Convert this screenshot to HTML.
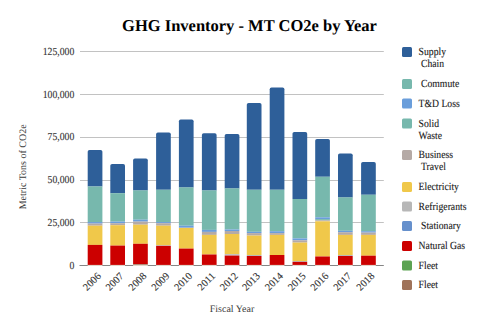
<!DOCTYPE html>
<html><head><meta charset="utf-8"><style>
html,body{margin:0;padding:0;background:#fff;}
svg{display:block;}
text{font-family:"Liberation Serif", serif;fill:#222;text-rendering:geometricPrecision;}
.ax{font-size:10.8px;fill:#333;stroke:#333;stroke-width:0.12px;}
.at{font-size:10px;fill:#3a3a3a;}
.xl{font-size:10.3px;fill:#333;stroke:#333;stroke-width:0.12px;}
.lg{font-size:11px;fill:#1a1a1a;stroke:#1a1a1a;stroke-width:0.12px;}
.title{font-size:16.5px;font-weight:bold;fill:#000;}
</style></head><body>
<svg width="500" height="331" viewBox="0 0 500 331">
<rect width="500" height="331" fill="#fff"/>
<rect x="80" y="51" width="303.8" height="1" fill="#c2c2c2"/>
<rect x="80" y="94" width="303.8" height="1" fill="#c2c2c2"/>
<rect x="80" y="137" width="303.8" height="1" fill="#c2c2c2"/>
<rect x="80" y="180" width="303.8" height="1" fill="#c2c2c2"/>
<rect x="80" y="222" width="303.8" height="1" fill="#c2c2c2"/>
<rect x="79.5" y="265" width="304.3" height="1" fill="#858585"/>
<text transform="translate(74.3 54.9) scale(0.9,1)" text-anchor="end" class="ax">125,000</text>
<text transform="translate(74.3 97.6) scale(0.9,1)" text-anchor="end" class="ax">100,000</text>
<text transform="translate(74.3 140.4) scale(0.9,1)" text-anchor="end" class="ax">75,000</text>
<text transform="translate(74.3 183.1) scale(0.9,1)" text-anchor="end" class="ax">50,000</text>
<text transform="translate(74.3 225.9) scale(0.9,1)" text-anchor="end" class="ax">25,000</text>
<text transform="translate(74.3 268.6) scale(0.9,1)" text-anchor="end" class="ax">0</text>
<path d="M87.70,186.50 V151.80 Q87.70,150.00 89.50,150.00 H100.60 Q102.40,150.00 102.40,151.80 V186.50 Z" fill="#2e5f99"/>
<rect x="87.70" y="186.50" width="14.7" height="35.60" fill="#77b8ad"/>
<rect x="87.70" y="222.10" width="14.7" height="1.50" fill="#6a9edb"/>
<rect x="87.70" y="223.60" width="14.7" height="2.10" fill="#b5aaa6"/>
<rect x="87.70" y="225.70" width="14.7" height="19.20" fill="#f0c84a"/>
<rect x="87.70" y="244.90" width="14.7" height="20.30" fill="#cc0000"/>
<rect x="87.70" y="264.9" width="14.7" height="1" fill="#ece3d6"/>
<path d="M110.30,193.20 V165.80 Q110.30,164.00 112.10,164.00 H123.20 Q125.00,164.00 125.00,165.80 V193.20 Z" fill="#2e5f99"/>
<rect x="110.30" y="193.20" width="14.7" height="28.40" fill="#77b8ad"/>
<rect x="110.30" y="221.60" width="14.7" height="1.60" fill="#6a9edb"/>
<rect x="110.30" y="223.20" width="14.7" height="2.00" fill="#b5aaa6"/>
<rect x="110.30" y="225.20" width="14.7" height="20.40" fill="#f0c84a"/>
<rect x="110.30" y="245.60" width="14.7" height="19.60" fill="#cc0000"/>
<rect x="110.30" y="264.9" width="14.7" height="1" fill="#ece3d6"/>
<path d="M133.10,190.40 V160.20 Q133.10,158.40 134.90,158.40 H146.00 Q147.80,158.40 147.80,160.20 V190.40 Z" fill="#2e5f99"/>
<rect x="133.10" y="190.40" width="14.7" height="29.30" fill="#77b8ad"/>
<rect x="133.10" y="219.70" width="14.7" height="1.90" fill="#6a9edb"/>
<rect x="133.10" y="221.60" width="14.7" height="3.10" fill="#b5aaa6"/>
<rect x="133.10" y="224.70" width="14.7" height="19.10" fill="#f0c84a"/>
<rect x="133.10" y="243.80" width="14.7" height="20.40" fill="#cc0000"/>
<rect x="133.10" y="264.20" width="14.7" height="1.00" fill="#9f735a"/>
<rect x="133.10" y="264.9" width="14.7" height="1" fill="#ece3d6"/>
<path d="M156.10,189.80 V134.20 Q156.10,132.40 157.90,132.40 H169.00 Q170.80,132.40 170.80,134.20 V189.80 Z" fill="#2e5f99"/>
<rect x="156.10" y="189.80" width="14.7" height="32.30" fill="#77b8ad"/>
<rect x="156.10" y="222.10" width="14.7" height="1.10" fill="#6a9edb"/>
<rect x="156.10" y="223.20" width="14.7" height="2.50" fill="#b5aaa6"/>
<rect x="156.10" y="225.70" width="14.7" height="19.60" fill="#f0c84a"/>
<rect x="156.10" y="245.30" width="14.7" height="0.60" fill="#b5aaa6"/>
<rect x="156.10" y="245.90" width="14.7" height="19.30" fill="#cc0000"/>
<rect x="156.10" y="264.9" width="14.7" height="1" fill="#ece3d6"/>
<path d="M178.90,187.40 V121.20 Q178.90,119.40 180.70,119.40 H191.80 Q193.60,119.40 193.60,121.20 V187.40 Z" fill="#2e5f99"/>
<rect x="178.90" y="187.40" width="14.7" height="38.30" fill="#77b8ad"/>
<rect x="178.90" y="225.70" width="14.7" height="2.00" fill="#6a9edb"/>
<rect x="178.90" y="227.70" width="14.7" height="0.30" fill="#b5aaa6"/>
<rect x="178.90" y="228.00" width="14.7" height="20.60" fill="#f0c84a"/>
<rect x="178.90" y="248.60" width="14.7" height="16.60" fill="#cc0000"/>
<rect x="178.90" y="264.9" width="14.7" height="1" fill="#ece3d6"/>
<path d="M201.90,190.40 V135.00 Q201.90,133.20 203.70,133.20 H214.80 Q216.60,133.20 216.60,135.00 V190.40 Z" fill="#2e5f99"/>
<rect x="201.90" y="190.40" width="14.7" height="39.50" fill="#77b8ad"/>
<rect x="201.90" y="229.90" width="14.7" height="2.00" fill="#6a9edb"/>
<rect x="201.90" y="231.90" width="14.7" height="3.00" fill="#b5aaa6"/>
<rect x="201.90" y="234.90" width="14.7" height="19.60" fill="#f0c84a"/>
<rect x="201.90" y="254.50" width="14.7" height="10.70" fill="#cc0000"/>
<rect x="201.90" y="264.9" width="14.7" height="1" fill="#ece3d6"/>
<path d="M224.70,188.40 V135.80 Q224.70,134.00 226.50,134.00 H237.60 Q239.40,134.00 239.40,135.80 V188.40 Z" fill="#2e5f99"/>
<rect x="224.70" y="188.40" width="14.7" height="41.10" fill="#77b8ad"/>
<rect x="224.70" y="229.50" width="14.7" height="1.50" fill="#6a9edb"/>
<rect x="224.70" y="231.00" width="14.7" height="3.00" fill="#b5aaa6"/>
<rect x="224.70" y="234.00" width="14.7" height="20.20" fill="#f0c84a"/>
<rect x="224.70" y="254.20" width="14.7" height="1.40" fill="#b7b7b7"/>
<rect x="224.70" y="255.60" width="14.7" height="9.60" fill="#cc0000"/>
<rect x="224.70" y="264.9" width="14.7" height="1" fill="#ece3d6"/>
<path d="M246.80,189.80 V104.80 Q246.80,103.00 248.60,103.00 H259.70 Q261.50,103.00 261.50,104.80 V189.80 Z" fill="#2e5f99"/>
<rect x="246.80" y="189.80" width="14.7" height="42.00" fill="#77b8ad"/>
<rect x="246.80" y="231.80" width="14.7" height="1.30" fill="#6a9edb"/>
<rect x="246.80" y="233.10" width="14.7" height="2.50" fill="#b5aaa6"/>
<rect x="246.80" y="235.60" width="14.7" height="19.40" fill="#f0c84a"/>
<rect x="246.80" y="255.00" width="14.7" height="1.00" fill="#b7b7b7"/>
<rect x="246.80" y="256.00" width="14.7" height="9.20" fill="#cc0000"/>
<rect x="246.80" y="264.9" width="14.7" height="1" fill="#ece3d6"/>
<path d="M269.70,189.80 V89.20 Q269.70,87.40 271.50,87.40 H282.60 Q284.40,87.40 284.40,89.20 V189.80 Z" fill="#2e5f99"/>
<rect x="269.70" y="189.80" width="14.7" height="41.40" fill="#77b8ad"/>
<rect x="269.70" y="231.20" width="14.7" height="1.90" fill="#6a9edb"/>
<rect x="269.70" y="233.10" width="14.7" height="1.80" fill="#b5aaa6"/>
<rect x="269.70" y="234.90" width="14.7" height="20.10" fill="#f0c84a"/>
<rect x="269.70" y="255.00" width="14.7" height="10.20" fill="#cc0000"/>
<rect x="269.70" y="264.9" width="14.7" height="1" fill="#ece3d6"/>
<path d="M292.50,199.00 V133.80 Q292.50,132.00 294.30,132.00 H305.40 Q307.20,132.00 307.20,133.80 V199.00 Z" fill="#2e5f99"/>
<rect x="292.50" y="199.00" width="14.7" height="39.40" fill="#77b8ad"/>
<rect x="292.50" y="238.40" width="14.7" height="1.90" fill="#6a9edb"/>
<rect x="292.50" y="240.30" width="14.7" height="2.30" fill="#b5aaa6"/>
<rect x="292.50" y="242.60" width="14.7" height="18.50" fill="#f0c84a"/>
<rect x="292.50" y="261.10" width="14.7" height="0.80" fill="#b5aaa6"/>
<rect x="292.50" y="261.90" width="14.7" height="3.30" fill="#cc0000"/>
<rect x="292.50" y="264.9" width="14.7" height="1" fill="#ece3d6"/>
<path d="M315.20,176.80 V140.80 Q315.20,139.00 317.00,139.00 H328.10 Q329.90,139.00 329.90,140.80 V176.80 Z" fill="#2e5f99"/>
<rect x="315.20" y="176.80" width="14.7" height="40.50" fill="#77b8ad"/>
<rect x="315.20" y="217.30" width="14.7" height="1.80" fill="#6a9edb"/>
<rect x="315.20" y="219.10" width="14.7" height="1.20" fill="#77b8ad"/>
<rect x="315.20" y="220.30" width="14.7" height="1.00" fill="#b5aaa6"/>
<rect x="315.20" y="221.30" width="14.7" height="35.20" fill="#f0c84a"/>
<rect x="315.20" y="256.50" width="14.7" height="8.70" fill="#cc0000"/>
<rect x="315.20" y="264.9" width="14.7" height="1" fill="#ece3d6"/>
<path d="M338.00,197.40 V155.30 Q338.00,153.50 339.80,153.50 H350.90 Q352.70,153.50 352.70,155.30 V197.40 Z" fill="#2e5f99"/>
<rect x="338.00" y="197.40" width="14.7" height="33.40" fill="#77b8ad"/>
<rect x="338.00" y="230.80" width="14.7" height="1.40" fill="#6a9edb"/>
<rect x="338.00" y="232.20" width="14.7" height="2.70" fill="#b5aaa6"/>
<rect x="338.00" y="234.90" width="14.7" height="20.10" fill="#f0c84a"/>
<rect x="338.00" y="255.00" width="14.7" height="1.00" fill="#b7b7b7"/>
<rect x="338.00" y="256.00" width="14.7" height="9.20" fill="#cc0000"/>
<rect x="338.00" y="264.9" width="14.7" height="1" fill="#ece3d6"/>
<path d="M361.10,194.80 V163.80 Q361.10,162.00 362.90,162.00 H374.00 Q375.80,162.00 375.80,163.80 V194.80 Z" fill="#2e5f99"/>
<rect x="361.10" y="194.80" width="14.7" height="36.40" fill="#77b8ad"/>
<rect x="361.10" y="231.20" width="14.7" height="1.40" fill="#6a9edb"/>
<rect x="361.10" y="232.60" width="14.7" height="2.30" fill="#b5aaa6"/>
<rect x="361.10" y="234.90" width="14.7" height="20.80" fill="#f0c84a"/>
<rect x="361.10" y="255.70" width="14.7" height="9.50" fill="#cc0000"/>
<rect x="361.10" y="264.9" width="14.7" height="1" fill="#ece3d6"/>
<text transform="translate(101.65 276.6) rotate(-45)" text-anchor="end" class="xl">2006</text>
<text transform="translate(124.25 276.6) rotate(-45)" text-anchor="end" class="xl">2007</text>
<text transform="translate(147.05 276.6) rotate(-45)" text-anchor="end" class="xl">2008</text>
<text transform="translate(170.05 276.6) rotate(-45)" text-anchor="end" class="xl">2009</text>
<text transform="translate(192.85 276.6) rotate(-45)" text-anchor="end" class="xl">2010</text>
<text transform="translate(215.85 276.6) rotate(-45)" text-anchor="end" class="xl">2011</text>
<text transform="translate(238.65 276.6) rotate(-45)" text-anchor="end" class="xl">2012</text>
<text transform="translate(260.75 276.6) rotate(-45)" text-anchor="end" class="xl">2013</text>
<text transform="translate(283.65 276.6) rotate(-45)" text-anchor="end" class="xl">2014</text>
<text transform="translate(306.45 276.6) rotate(-45)" text-anchor="end" class="xl">2015</text>
<text transform="translate(329.15 276.6) rotate(-45)" text-anchor="end" class="xl">2016</text>
<text transform="translate(351.95 276.6) rotate(-45)" text-anchor="end" class="xl">2017</text>
<text transform="translate(375.05 276.6) rotate(-45)" text-anchor="end" class="xl">2018</text>
<text x="249.5" y="31" text-anchor="middle" class="title">GHG Inventory - MT CO2e by Year</text>
<text x="232" y="312" text-anchor="middle" class="at">Fiscal Year</text>
<text transform="translate(25.7 166.8) rotate(-90)" text-anchor="middle" class="at">Metric Tons of CO2e</text>
<rect x="402" y="47" width="10" height="10" rx="1.5" fill="#2e5f99"/>
<text transform="translate(418.6 55.4) scale(0.88,1)" class="lg">Supply</text>
<text transform="translate(418.6 67.2) scale(0.88,1)" class="lg"> Chain</text>
<rect x="402" y="79" width="10" height="10" rx="1.5" fill="#77b8ad"/>
<text transform="translate(418.6 87.4) scale(0.88,1)" class="lg"> Commute</text>
<rect x="402" y="98.5" width="10" height="10" rx="1.5" fill="#6a9edb"/>
<text transform="translate(418.6 106.9) scale(0.88,1)" class="lg">T&amp;D Loss</text>
<rect x="402" y="118.5" width="10" height="10" rx="1.5" fill="#77b8ad"/>
<text transform="translate(418.6 126.9) scale(0.88,1)" class="lg">Solid</text>
<text transform="translate(418.6 138.7) scale(0.88,1)" class="lg">Waste</text>
<rect x="402" y="150" width="10" height="10" rx="1.5" fill="#b5aaa6"/>
<text transform="translate(418.6 158.4) scale(0.88,1)" class="lg">Business</text>
<text transform="translate(418.6 170.2) scale(0.88,1)" class="lg"> Travel</text>
<rect x="402" y="182" width="10" height="10" rx="1.5" fill="#f0c84a"/>
<text transform="translate(418.6 190.4) scale(0.88,1)" class="lg">Electricity</text>
<rect x="402" y="201.6" width="10" height="10" rx="1.5" fill="#b7b7b7"/>
<text transform="translate(418.6 210.0) scale(0.88,1)" class="lg">Refrigerants</text>
<rect x="402" y="221" width="10" height="10" rx="1.5" fill="#6690cc"/>
<text transform="translate(418.6 229.4) scale(0.88,1)" class="lg"> Stationary</text>
<rect x="402" y="241" width="10" height="10" rx="1.5" fill="#cc0000"/>
<text transform="translate(418.6 249.4) scale(0.88,1)" class="lg">Natural Gas</text>
<rect x="402" y="260.6" width="10" height="10" rx="1.5" fill="#5ca353"/>
<text transform="translate(418.6 269.0) scale(0.88,1)" class="lg">Fleet</text>
<rect x="402" y="280" width="10" height="10" rx="1.5" fill="#9f735a"/>
<text transform="translate(418.6 288.4) scale(0.88,1)" class="lg">Fleet</text>
</svg></body></html>
